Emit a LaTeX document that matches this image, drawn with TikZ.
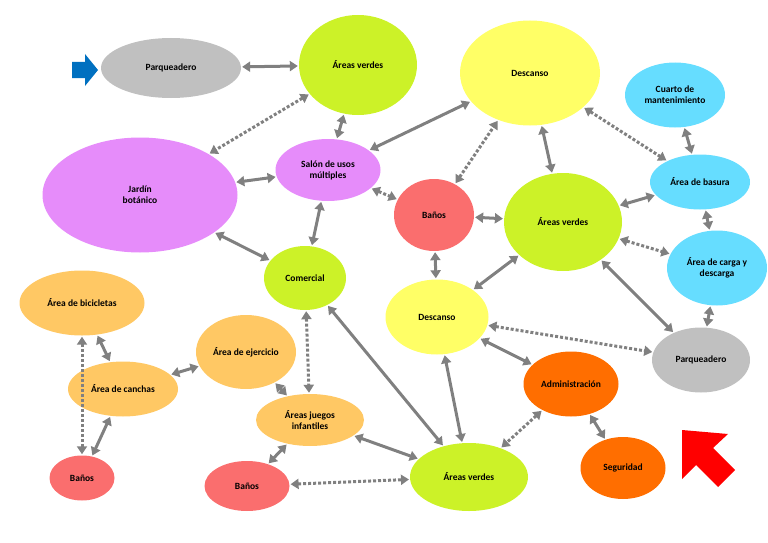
\documentclass[tikz,border=0pt]{standalone}
\usepackage{fontspec}
\setmainfont{Carlito}
\usetikzlibrary{arrows.meta,shapes.geometric}
\definecolor{gris}{RGB}{192,192,192}
\definecolor{verde}{RGB}{204,242,40}
\definecolor{amarillo}{RGB}{255,255,102}
\definecolor{celeste}{RGB}{102,221,255}
\definecolor{violeta}{RGB}{230,140,250}
\definecolor{rosa}{RGB}{250,110,110}
\definecolor{naranja}{RGB}{255,200,100}
\definecolor{naranjo}{RGB}{255,110,0}
\definecolor{flecha}{RGB}{128,128,128}
\definecolor{azul}{RGB}{0,112,192}
\tikzset{
  zona/.style={ellipse,draw=none,align=center,font=\bfseries\fontsize{9.5}{11}\selectfont,inner sep=0pt},
  via/.style={{Triangle[length=8pt,width=10pt]}-{Triangle[length=8pt,width=10pt]},line width=3pt,draw=flecha,shorten <=1pt,shorten >=1pt},
  senda/.style={via,dotted}
}
\begin{document}
\begin{tikzpicture}[x=1pt,y=-1pt]
				\useasboundingbox (0,0) rectangle (768,543);
				% zonas
				\node [zona,fill=gris,minimum width=140,minimum height=60] (pq1) at (171,68) {Parqueadero};
				\node [zona,fill=verde,minimum width=118,minimum height=100] (av1) at (358,65) {Áreas verdes};
				\node [zona,fill=amarillo,minimum width=140,minimum height=105] (de1) at (530,73) {Descanso};
				\node [zona,fill=celeste,minimum width=100,minimum height=65] (cm) at (675,95) {Cuarto de\\mantenimiento};
				\node [zona,fill=violeta,minimum width=105,minimum height=62] (sum) at (328,170) {Salón de usos\\múltiples};
				\node [zona,fill=violeta,minimum width=195,minimum height=115] (jb) at (140,195) {Jardín\\botánico};
				\node [zona,fill=rosa,minimum width=80,minimum height=72] (ba1) at (434,215) {Baños};
				\node [zona,fill=verde,minimum width=118,minimum height=98] (av2) at (563,222) {Áreas verdes};
				\node [zona,fill=celeste,minimum width=100,minimum height=55] (ab) at (700,182) {Área de basura};
				\node [zona,fill=celeste,minimum width=100,minimum height=75] (acd) at (717,268) {Área de carga y\\descarga};
				\node [zona,fill=verde,minimum width=82,minimum height=64] (co) at (305,278) {Comercial};
				\node [zona,fill=amarillo,minimum width=103,minimum height=75] (de2) at (437,317) {Descanso};
				\node [zona,fill=gris,minimum width=98,minimum height=65] (pq2) at (701,360) {Parqueadero};
				\node [zona,fill=naranja,minimum width=125,minimum height=65] (abi) at (82,303) {Área de bicicletas};
				\node [zona,fill=naranja,minimum width=100,minimum height=74] (ae) at (246,352) {Área de ejercicio};
				\node [zona,fill=naranja,minimum width=110,minimum height=55] (ac) at (123,389) {Área de canchas};
				\node [zona,fill=naranjo,minimum width=95,minimum height=65] (adm) at (571,384) {Administración};
				\node [zona,fill=naranja,minimum width=108,minimum height=52] (aji) at (310,420) {Áreas juegos\\infantiles};
				\node [zona,fill=rosa,minimum width=65,minimum height=45] (ba2) at (82,478) {Baños};
				\node [zona,fill=rosa,minimum width=85,minimum height=50] (ba3) at (247,486) {Baños};
				\node [zona,fill=verde,minimum width=118,minimum height=68] (av3) at (469,477) {Áreas verdes};
				\node [zona,fill=naranjo,minimum width=85,minimum height=62] (seg) at (623,468) {Seguridad};
				
				% accesos
				\fill [azul] (72,62) -- (85,62) -- (85,54) -- (98,70) -- (85,86) -- (85,78) -- (72,78) -- cycle;
				\fill [red] (682,430) -- (728,434) -- (713,448) -- (735,470) -- (718,487) -- (696,465) -- (682,479) -- cycle;
				
				% conexiones directas
				\draw [via] (pq1) -- (av1);
				\draw [via] (av1) -- (sum);
				\draw [via] (sum) -- (jb);
				\draw [via] (sum) -- (co);
				\draw [via] (sum) -- (de1);
				\draw [via] (jb) -- (co);
				\draw [via] (de1) -- (av2);
				\draw [via] (ba1) -- (av2);
				\draw [via] (ba1) -- (de2);
				\draw [via] (av2) -- (ab);
				\draw [via] (av2) -- (de2);
				\draw [via] (av2) -- (pq2);
				\draw [via] (cm) -- (ab);
				\draw [via] (ab) -- (acd);
				\draw [via] (acd) -- (pq2);
				\draw [via] (de2) -- (adm);
				\draw [via] (de2) -- (av3);
				\draw [via] (co) -- (av3);
				\draw [via] (adm) -- (seg);
				\draw [via] (abi) -- (ac);
				\draw [via] (ae) -- (ac);
				\draw [via] (ae) -- (aji);
				\draw [via] (ac) -- (ba2);
				\draw [via] (aji) -- (ba3);
				\draw [via] (aji) -- (av3);
				% conexiones punteadas
				\draw [senda] (av1) -- (jb);
				\draw [senda] (sum) -- (ba1);
				\draw [senda] (ba1) -- (de1);
				\draw [senda] (de1) -- (ab);
				\draw [senda] (av2) -- (acd);
				\draw [senda] (de2) -- (pq2);
				\draw [senda] (co) -- (aji);
				\draw [senda] (adm) -- (av3);
				\draw [senda] (ba3) -- (av3);
				\draw [senda] (abi) -- (ba2);
			\end{tikzpicture}
\end{document}
